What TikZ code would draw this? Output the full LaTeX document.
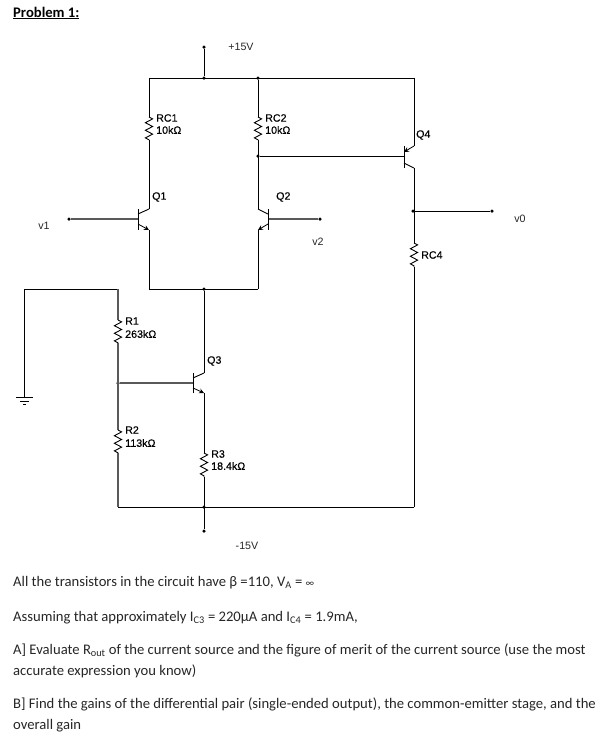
\documentclass[tikz,border=0pt]{standalone}
\usepackage{fontspec}
\setmainfont{Carlito}
\newfontfamily\labelfont[FakeBold=0.35]{Liberation Sans}
\newfontfamily\voltfont{Liberation Sans}
\usetikzlibrary{positioning,arrows.meta,decorations.pathmorphing}

\begin{document}
\begin{tikzpicture}[
    x=1pt, y=-1pt,
    wire/.style={line width=0.9pt},
    graywire/.style={line width=1.3pt, draw=black!65},
    res/.style={line width=0.9pt, decorate, decoration={zigzag, segment length=7.6pt, amplitude=3.6pt}},
    emitter/.style={line width=0.8pt,-{Stealth[length=5pt,width=5pt]}},
    dot/.style={circle, fill=black, inner sep=0pt, minimum size=3.5pt},
    comp/.style={font=\labelfont\fontsize{10.67}{12}\selectfont, inner sep=0pt, anchor=west},
    volt/.style={font=\voltfont\fontsize{10.67}{12}\selectfont, inner sep=0pt, text=black!85},
    body/.style={font=\fontsize{14.65}{16}\selectfont, inner sep=0pt, anchor=base west, text=black!85}
]
\useasboundingbox (0,0) rectangle (604,740);

% Title
\node[font=\bfseries\fontsize{14.65}{16}\selectfont, inner sep=0pt, anchor=base west] (title) at (13,17) {\underline{Problem 1:}};

% Rails
\node[dot] (vcc) at (204,47) {};
\node[dot] (top) at (204,78) {};
\node[dot] (topr) at (258,78) {};
\coordinate (topl) at (149,78);
\coordinate (topq4) at (414,78);
\node[dot] (tail) at (204,289) {};
\coordinate (taill) at (149,289);
\coordinate (tailr) at (258,289);
\node[dot] (bot) at (204,507) {};
\node[dot] (vee) at (204,531) {};
\coordinate (botl) at (118,507);
\coordinate (botr) at (414,507);

% Collector resistors
\coordinate (rc1a) at (149,117);
\coordinate (rc1b) at (149,140);
\coordinate (rc2a) at (258,117);
\coordinate (rc2b) at (258,140);
\node[dot] (c2) at (258,156) {};

% Q1
\node[dot] (v1) at (69,219) {};
\coordinate (q1b) at (138,219);
\coordinate (q1s) at (138,209);
\coordinate (q1t) at (138,230);
\coordinate (q1c) at (149,209);
\coordinate (q1e) at (149,230);
\coordinate (q1m) at (138,224);

% Q2
\node[dot] (v2) at (320,219) {};
\coordinate (q2b) at (268,219);
\coordinate (q2s) at (268,209);
\coordinate (q2t) at (268,230);
\coordinate (q2c) at (258,209);
\coordinate (q2e) at (258,230);
\coordinate (q2m) at (268,224);

% Q3 and its bias
\coordinate (q3b) at (193,383);
\coordinate (q3s) at (193,373);
\coordinate (q3t) at (193,393);
\coordinate (q3c) at (204,373);
\coordinate (q3e) at (204,393);
\coordinate (q3m) at (193,388);
\coordinate (r3a) at (204,453);
\coordinate (r3b) at (204,477);
\coordinate (r1a) at (118,320);
\coordinate (r1b) at (118,343);
\node[dot] (bias) at (118,383) {};
\coordinate (r2a) at (118,430);
\coordinate (r2b) at (118,453);
\coordinate (gndtop) at (118,289);
\coordinate (gndc) at (24,289);
\coordinate (gnd) at (24,397);

% Q4 and output
\coordinate (q4b) at (404,156);
\coordinate (q4s) at (404,146);
\coordinate (q4t) at (404,168);
\coordinate (q4c) at (414,168);
\coordinate (q4e) at (414,146);
\coordinate (q4m) at (404,152);
\node[dot] (out) at (413,211) {};
\node[dot] (v0) at (492,211) {};
\coordinate (rc4a) at (414,243);
\coordinate (rc4b) at (414,267);

% Wires
\draw[wire] (vcc) -- (top);
\draw[wire] (topl) -- (topq4);
\draw[wire] (topl) -- (rc1a);
\draw[res] (rc1a) -- (rc1b);
\draw[wire] (rc1b) -- (q1c);
\draw[wire] (topr) -- (rc2a);
\draw[res] (rc2a) -- (rc2b);
\draw[wire] (rc2b) -- (q2c);
\draw[wire] (c2) -- (q4b);
\draw[wire] (taill) -- (tailr);
\draw[wire] (q1e) -- (taill);
\draw[wire] (q2e) -- (tailr);
\draw[wire] (tail) -- (q3c);
\draw[wire] (q3e) -- (r3a);
\draw[res] (r3a) -- (r3b);
\draw[wire] (r3b) -- (vee);
\draw[wire] (botl) -- (botr);
\draw[wire] (topq4) -- (q4e);
\draw[wire] (q4c) -- (rc4a);
\draw[res] (rc4a) -- (rc4b);
\draw[wire] (rc4b) -- (botr);
\draw[wire] (out) -- (v0);
\draw[wire] (gndc) -- (gndtop);
\draw[wire] (gndc) -- (gnd);
\draw[graywire] (gndtop) -- (r1a);
\draw[res] (r1a) -- (r1b);
\draw[graywire] (r1b) -- (r2a);
\draw[res] (r2a) -- (r2b);
\draw[graywire] (r2b) -- (botl);
\draw[graywire] (bias) -- (q3b);
\draw[graywire] (v1) -- (q1b);
\draw[graywire] (q2b) -- (v2);

% Transistors
\draw[wire] (q1s) -- (q1t);
\draw[wire] (q1s) ++(0,5) -- (q1c);
\draw[emitter] (q1m) -- (q1e);
\draw[wire] (q2s) -- (q2t);
\draw[wire] (q2s) ++(0,5) -- (q2c);
\draw[emitter] (q2m) -- (q2e);
\draw[wire] (q3s) -- (q3t);
\draw[wire] (q3s) ++(0,5) -- (q3c);
\draw[emitter] (q3m) -- (q3e);
\draw[wire] (q4s) -- (q4t);
\draw[wire] (q4t) ++(0,-5) -- (q4c);
\draw[emitter] (q4e) -- (q4m);

% Ground
\coordinate (g1a) at (16,397);
\coordinate (g1b) at (33,397);
\coordinate (g2a) at (20,401);
\coordinate (g2b) at (29,401);
\coordinate (g3a) at (23,404);
\coordinate (g3b) at (26,404);
\draw[wire] (g1a) -- (g1b);
\draw[wire] (g2a) -- (g2b);
\draw[wire] (g3a) -- (g3b);

% Labels
\node[comp] (lrc1) at (156,118) {RC1};
\node[comp] (vrc1) at (156,130) {10kΩ};
\node[comp] (lrc2) at (265,118) {RC2};
\node[comp] (vrc2) at (265,130) {10kΩ};
\node[comp] (lq1) at (152,197) {Q1};
\node[comp] (lq2) at (276,197) {Q2};
\node[comp] (lq3) at (207,361) {Q3};
\node[comp] (lq4) at (416,135) {Q4};
\node[comp] (lrc4) at (421,255) {RC4};
\node[comp] (lr1) at (125,321) {R1};
\node[comp] (vr1) at (125,334) {263kΩ};
\node[comp] (lr2) at (125,430) {R2};
\node[comp] (vr2) at (125,443) {113kΩ};
\node[comp] (lr3) at (211,454) {R3};
\node[comp] (vr3) at (211,466) {18.4kΩ};
\node[volt] (lvcc) at (241,47) {+15V};
\node[volt] (lvee) at (247,546) {-15V};
\node[volt] (lv1) at (44,226) {v1};
\node[volt] (lv2) at (318,242) {v2};
\node[volt] (lv0) at (520,219) {v0};

% Question text
\node[body] (line1) at (13,586) {All the transistors in the circuit have β =110, V\textsubscript{A} = {\fontsize{10}{10}\selectfont ∞}};
\node[body] (line2) at (13,621) {Assuming that approximately I\textsubscript{C3} = 220µA and I\textsubscript{C4} = 1.9mA,};
\node[body] (line3) at (13,654) {A] Evaluate R\textsubscript{out} of the current source and the figure of merit of the current source (use the most};
\node[body] (line4) at (13,675) {accurate expression you know)};
\node[body] (line5) at (13,708) {B] Find the gains of the differential pair (single-ended output), the common-emitter stage, and the};
\node[body] (line6) at (13,729) {overall gain};

\end{tikzpicture}
\end{document}
